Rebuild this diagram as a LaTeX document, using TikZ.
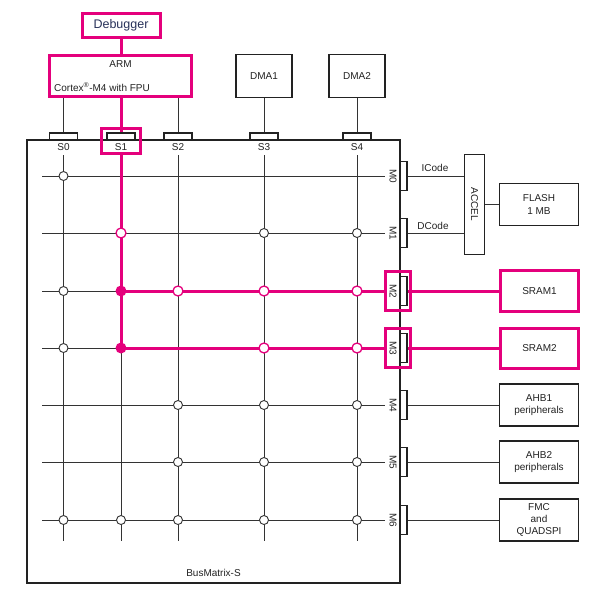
\documentclass[tikz,border=0pt]{standalone}
\usepackage{fontspec}
\setmainfont{Liberation Sans}
\definecolor{pk}{RGB}{228,0,124}
\definecolor{ink}{RGB}{34,34,34}
\definecolor{navy}{RGB}{40,50,90}
\begin{document}
\begin{tikzpicture}[x=1pt,y=-1pt,
  txt/.style={font=\fontsize{10}{12.3}\selectfont, text=ink, inner sep=0pt, align=center},
  box/.style={txt, draw=ink, line width=1.3pt, fill=white},
  pbox/.style={txt, draw=pk, line width=3pt, fill=white},
  hlbox/.style={draw=pk, line width=3pt, inner sep=0pt},
  port/.style={draw=ink, line width=1.1pt, fill=white, inner sep=0pt, minimum width=28pt, minimum height=7pt},
  rport/.style={draw=ink, line width=1.1pt, fill=white, inner sep=0pt, minimum width=7pt, minimum height=29pt},
  bus/.style={draw=black!80, line width=1pt},
  pbus/.style={draw=pk, line width=3pt},
  oc/.style={circle, draw=black!80, fill=white, line width=0.9pt, minimum size=9pt, inner sep=0pt},
  poc/.style={circle, draw=pk, fill=white, line width=1.3pt, minimum size=10pt, inner sep=0pt},
  pfc/.style={circle, fill=pk, minimum size=11pt, inner sep=0pt}]
\useasboundingbox (0,0) rectangle (602,600);
% main bus matrix frame
\node[draw=ink, line width=1.3pt, minimum width=373pt, minimum height=443pt, inner sep=0pt] (bm) at (213.5,361.5) {};
\node[txt] (bmlbl) at (213.5,573) {BusMatrix-S};
% top masters
\node[pbox, minimum width=78pt, minimum height=24pt, font=\fontsize{12.5}{14}\selectfont, text=navy] (dbg) at (121,25.5) {Debugger};
\node[pbox, minimum width=142pt, minimum height=41pt] (arm) at (120.5,76) {};
\node[txt] (armt) at (120.5,64) {ARM};
\node[txt, anchor=west] (armc) at (54,87) {Cortex\textsuperscript{\textregistered}-M4 with FPU};
\node[box, minimum width=56pt, minimum height=43pt] (dma1) at (264,76) {DMA1};
\node[box, minimum width=56pt, minimum height=43pt] (dma2) at (357,76) {DMA2};
% columns
\foreach \n/\x in {0/63.5,1/121,2/178,3/264,4/357} {
  \coordinate (vt\n) at (\x,155);
  \coordinate (vb\n) at (\x,541);
  \draw[bus] (vt\n) -- (vb\n);
  \node[txt] (s\n) at (\x,147.5) {S\n};
}
% rows
\foreach \n/\y in {0/176,1/233,2/291,3/348,4/405,5/462,6/520} {
  \coordinate (hl\n) at (42,\y);
  \coordinate (hr\n) at (385,\y);
  \draw[bus] (hl\n) -- (hr\n);
  \node[txt, rotate=-90] (ml\n) at (393,\y) {M\n};
}
% masters to ports
\foreach \n/\x in {0/63.5,1/121,2/178,3/264,4/357} {
  \node[port] (p\n) at (\x,136.5) {};
}
\draw[bus] (p0.north |- arm.south) -- (p0.north);
\draw[bus] (p2.north |- arm.south) -- (p2.north);
\draw[bus] (dma1.south) -- (p3.north);
\draw[bus] (dma2.south) -- (p4.north);
\draw[pbus] (p1.north |- arm.south) -- (p1.north);
\draw[pbus] (dbg.south) -- (dbg.south |- arm.north);
% highlighted paths
\draw[pbus] (vt1) -- (vt1 |- hl3);
\draw[pbus] (vt1 |- hl2) -- (hr2);
\draw[pbus] (vt1 |- hl3) -- (hr3);
% slave ports
\foreach \n/\y in {0/176,1/233,2/291,3/348,4/405,5/462,6/520} {
  \node[rport] (mp\n) at (403.5,\y) {};
}
% circles
\foreach \c/\r in {0/0,3/1,4/1,0/2,0/3,2/4,3/4,4/4,2/5,3/5,4/5,0/6,1/6,2/6,3/6,4/6}
  \node[oc] (c\c\r) at (vt\c |- hl\r) {};
\foreach \c/\r in {1/1,2/2,3/2,4/2,3/3,4/3}
  \node[poc] (c\c\r) at (vt\c |- hl\r) {};
\foreach \c/\r in {1/2,1/3}
  \node[pfc] (c\c\r) at (vt\c |- hl\r) {};
% highlight frames
\node[hlbox, minimum width=39pt, minimum height=25pt] (hs1) at (121,141) {};
\node[hlbox, minimum width=25pt, minimum height=39pt] (hm2) at (398,291) {};
\node[hlbox, minimum width=25pt, minimum height=39pt] (hm3) at (398,348) {};
% slaves
\node[box, minimum width=20pt, minimum height=100pt] (accel) at (474.5,204.5) {\rotatebox{-90}{ACCEL}};
\node[box, minimum width=79pt, minimum height=42pt] (flash) at (539,204.5) {FLASH\\1 MB};
\node[pbox, minimum width=78pt, minimum height=41pt] (sram1) at (539.5,291) {SRAM1};
\node[pbox, minimum width=78pt, minimum height=40pt] (sram2) at (539.5,348) {SRAM2};
\node[box, minimum width=79pt, minimum height=42pt] (ahb1) at (539,405) {AHB1\\peripherals};
\node[box, minimum width=79pt, minimum height=42pt] (ahb2) at (539,462) {AHB2\\peripherals};
\node[box, minimum width=79pt, minimum height=42pt] (fmc) at (539,520) {FMC\\and\\QUADSPI};
% slave connections
\draw[bus] (mp0.east) -- (mp0.east -| accel.west);
\draw[bus] (mp1.east) -- (mp1.east -| accel.west);
\node[txt] (icode) at (435,168) {ICode};
\node[txt] (dcode) at (433,226) {DCode};
\draw[bus] (accel.east) -- (flash.west);
\draw[pbus] (mp2.east) -- (sram1.west);
\draw[pbus] (mp3.east) -- (sram2.west);
\draw[bus] (mp4.east) -- (ahb1.west);
\draw[bus] (mp5.east) -- (ahb2.west);
\draw[bus] (mp6.east) -- (fmc.west);
\end{tikzpicture}
\end{document}
